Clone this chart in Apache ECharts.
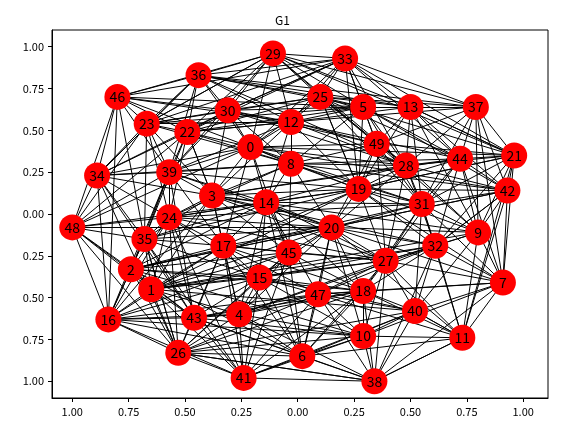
<!DOCTYPE html>
<html><head><meta charset="utf-8">
<script src="https://cdn.jsdelivr.net/npm/echarts@6/dist/echarts.min.js"></script>
<style>html,body{margin:0;background:#fff}#c{width:565px;height:433px}</style>
</head><body><div id="c"></div>
<script>
// node positions (layout coordinates)
const nodeX = [-0.21,-0.65,-0.74,-0.38,-0.26,0.29,0.02,0.91,-0.03,0.80,0.29,0.73,-0.03,0.50,-0.14,-0.17,-0.84,-0.33,0.29,0.27,
  0.15,0.96,-0.49,-0.67,-0.57,0.10,-0.53,0.39,0.48,-0.11,-0.31,0.55,0.61,0.21,-0.89,-0.68,-0.44,0.79,0.34,-0.57,
  0.52,-0.24,0.93,-0.46,0.72,-0.04,-0.80,0.09,-1.00,0.35];
const nodeY = [0.40,-0.45,-0.33,0.11,-0.60,0.64,-0.85,-0.41,0.30,-0.11,-0.73,-0.74,0.55,0.64,0.07,-0.38,-0.63,-0.19,-0.46,0.15,
  -0.08,0.35,0.49,0.54,-0.02,0.70,-0.83,-0.28,0.29,0.96,0.62,0.06,-0.19,0.93,0.23,-0.15,0.83,0.64,-1.00,0.25,
  -0.58,-0.98,0.14,-0.62,0.33,-0.23,0.70,-0.48,-0.08,0.42];
const tickValues = [-1, -0.75, -0.5, -0.25, 0, 0.25, 0.5, 0.75, 1];
// adjacency: node -> neighbours
const adjacency = [
  [0,[3,8,12,14,19,22,25,29,30,33,36,39,45,49,28,17,31,42,21,34,46,48]],
  [1,[2,16,26,35,43,4,17,15,24,48,41,20,3,19,32,9,27,40,45]],
  [2,[16,35,48,24,17,43,26,15,14,39,45,20,31,42,18,10,6]],
  [3,[14,17,24,39,22,30,8,45,20,19,35,34,12,28,44,9,32,27]],
  [4,[15,41,43,26,6,17,45,47,10,18,38,27,32,20,14,3,16]],
  [5,[12,13,19,25,28,33,49,37,8,29,31,44,36,22,30,23,46,42]],
  [6,[10,38,41,47,18,45,26,15,43,27,40,11,20,14,17]],
  [7,[9,11,32,40,42,21,31,27,37,44,18,38,20,19,47,10]],
  [8,[12,14,19,20,28,30,49,22,45,31,39,23,34,44,42,24]],
  [9,[11,21,31,32,42,44,27,40,19,28,20,37,49,13]],
  [10,[18,38,40,47,11,27,41,20,43,16,26,15]],
  [11,[38,40,32,27,18,42,21,20,47,31]],
  [12,[25,29,30,33,36,49,19,22,23,46,39,28,13,37,44]],
  [13,[25,28,33,37,44,49,21,19,29,36,31,42]],
  [14,[17,20,45,24,39,19,15,27,28,31,35,48,12,47,18]],
  [15,[17,43,45,47,41,26,24,35,18,27,20,32,40]],
  [16,[26,35,43,48,41,24,34,46,39,17,45,47,15,6,3]],
  [17,[24,35,45,43,39,20,19,27,18,47,26,41]],
  [18,[27,40,47,38,32,20,41,26,43,31,45]],
  [19,[20,28,31,27,49,44,32,42,21,25,33,39,24,35]],
  [20,[27,31,32,45,47,28,49,24,35,48,39,42]],
  [21,[37,42,44,31,28,49,13,33,25,19,32,29]],
  [22,[23,30,36,39,46,29,34,48,24,3,12,33,25,35]],
  [23,[34,36,39,46,48,30,35,29,24,3,12,33,25]],
  [24,[34,35,39,48,43,26,41,27,31]],
  [25,[29,33,49,30,36,28,44,37,31,19]],
  [26,[41,43,48,35,38,47,40,45]],
  [27,[32,40,45,47,38,31,28,44,49]],
  [28,[31,44,49,37,42,32,33,29,36]],
  [29,[30,33,36,46,37,49,39,23]],
  [30,[36,39,33,46,34,49,28]],
  [31,[32,42,44,37,40,49]],
  [32,[40,42,38,44,47]],
  [33,[37,49,36,46,44,30]],
  [34,[35,39,46,48,36,43,26]],
  [35,[43,48,46,26,41]],
  [36,[46,37,39,34]],
  [37,[44,42,49]],
  [38,[41,40,47,43,26,11]],
  [39,[46,48,43,35]],
  [40,[47,41,11]],
  [41,[43,47,45]],
  [42,[44,32]],
  [43,[48,47]],
  [46,[48]]
];

const nodes = nodeX.map((x, i) => ({ name: String(i), value: [x, nodeY[i]] }));
const links = [];
adjacency.forEach(([s, ns]) => ns.forEach(t => links.push({ source: String(s), target: String(t) })));

const axisCommon = {
  type: 'value', min: -1.1, max: 1.1,
  axisLine: { onZero: false, lineStyle: { color: '#000' } },
  axisTick: { show: true, customValues: tickValues, length: 4, lineStyle: { color: '#000' } },
  axisLabel: { customValues: tickValues, color: '#000', fontSize: 11, fontFamily: 'Noto Sans CJK SC',
    formatter: v => Math.abs(v).toFixed(2) },
  splitLine: { show: false }
};

const chart = echarts.init(document.getElementById('c'));
chart.setOption({
  animation: false,
  backgroundColor: '#fff',
  title: { text: 'G1', left: 'center', top: 9, textStyle: { fontSize: 12, fontWeight: 'normal', color: '#000', fontFamily: 'Noto Sans CJK SC' } },
  grid: { left: 52, right: 17, top: 30, bottom: 35, show: true, borderColor: '#000', borderWidth: 1 },
  xAxis: Object.assign({}, axisCommon, { min: -1.09, max: 1.11, position: 'bottom' }),
  yAxis: Object.assign({}, axisCommon, { position: 'left' }),
  series: [{
    type: 'graph', coordinateSystem: 'cartesian2d', layout: 'none',
    data: nodes, links: links,
    symbolSize: 26,
    itemStyle: { color: '#ff0000' },
    lineStyle: { color: '#000', width: 1, opacity: 1 },
    label: { show: true, position: 'inside', color: '#000', fontSize: 14, fontFamily: 'Noto Sans CJK SC' }
  }]
});
</script></body></html>
